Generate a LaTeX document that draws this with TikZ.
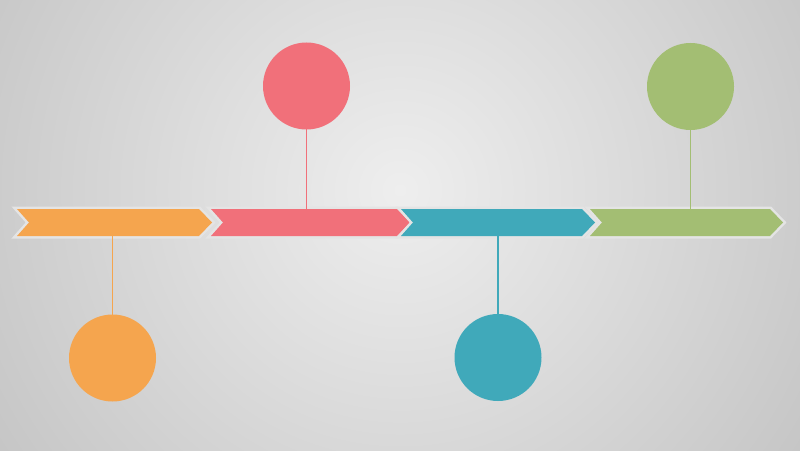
\documentclass[tikz,border=0pt]{standalone}
\usetikzlibrary{positioning}

\definecolor{tlorange}{HTML}{F5A54E}
\definecolor{tlpink}{HTML}{F1707A}
\definecolor{tlteal}{HTML}{40A9BA}
\definecolor{tlgreen}{HTML}{A3BE73}
\definecolor{bginner}{HTML}{EEEEEE}
\definecolor{bgouter}{HTML}{C4C4C4}
\definecolor{gapgray}{HTML}{E4E4E4}

\tikzset{
    chevron/.style={preaction={draw=gapgray, line width=5*0.02cm, line join=miter}},
    milestone/.style={circle, minimum size=87*0.02cm, inner sep=0pt, outer sep=0pt},
    stem/.style={line width=0.6pt}
}

\begin{document}
\begin{tikzpicture}[x=0.02cm, y=0.02cm]
    % Background
    \useasboundingbox (0,0) rectangle (800,450);
    \clip (0,0) rectangle (800,450);
    \shade[inner color=bginner, outer color=bgouter] (-100,-240) rectangle (900,760);

    % Draw the four arrow segments
    \fill[chevron, tlorange] (17,241) -- (199,241) -- (212,227.5) -- (199,214) -- (17,214) -- (29,227.5) -- cycle;
    \fill[chevron, tlpink] (211,241) -- (397,241) -- (410,227.5) -- (397,214) -- (211,214) -- (223,227.5) -- cycle;
    \fill[chevron, tlteal] (401,241) -- (582,241) -- (595,227.5) -- (582,214) -- (401,214) -- (413,227.5) -- cycle;
    \fill[chevron, tlgreen] (590,241) -- (770,241) -- (783,227.5) -- (770,214) -- (590,214) -- (602,227.5) -- cycle;

    % Points where the stems meet the arrow
    \coordinate (segA) at (112.5,214);
    \coordinate (segB) at (306.5,241);
    \coordinate (segC) at (498,214);
    \coordinate (segD) at (690.5,241);

    % Draw the milestones
    \node[milestone, fill=tlorange] (msA) at (112.5,92) {};
    \node[milestone, fill=tlpink] (msB) at (306.5,364) {};
    \node[milestone, fill=tlteal] (msC) at (498,92.5) {};
    \node[milestone, fill=tlgreen] (msD) at (690.5,363.5) {};

    % Stems
    \draw[stem, tlorange] (segA) -- (msA);
    \draw[stem, tlpink] (segB) -- (msB);
    \draw[stem, tlteal] (segC) -- (msC);
    \draw[stem, tlgreen] (segD) -- (msD);
\end{tikzpicture}
\end{document}
